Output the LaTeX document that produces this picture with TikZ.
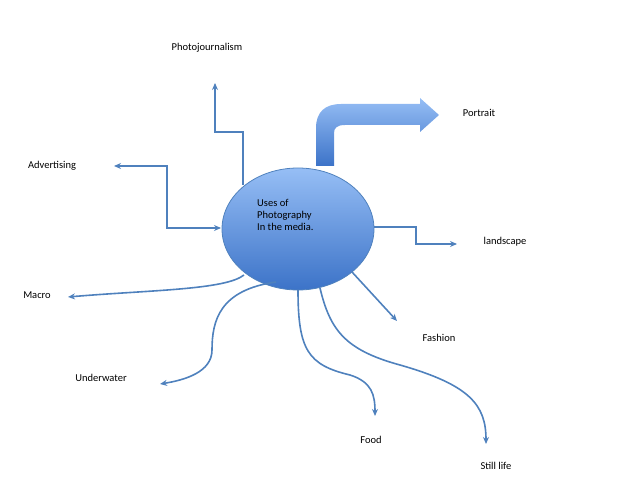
\documentclass[tikz,border=0pt]{standalone}
\usepackage{fontspec}
\setmainfont{Carlito}
\usetikzlibrary{arrows.meta,shapes.geometric}
\begin{document}
\begin{tikzpicture}[x=1pt,y=-1pt,
  conn/.style={draw=arrowblue,line width=1.6pt,-{Stealth[length=7pt,width=6pt]}},
  lbl/.style={font=\fontsize{10.5}{12}\selectfont,inner sep=0pt}]
\definecolor{arrowblue}{RGB}{79,129,189}
\definecolor{lightblue}{RGB}{150,190,245}
\definecolor{darkblue}{RGB}{60,115,200}
\path[use as bounding box] (0,0) rectangle (638,478);
% portrait block arrow
\shade[top color=lightblue,bottom color=darkblue,draw=none]
  (316,166) -- (316,128) .. controls (316,112) and (325,104) .. (341,104) -- (420,104) -- (420,98) -- (439,115) -- (420,132) -- (420,125) -- (345,125) .. controls (337,125) and (334,128) .. (334,133) -- (334,166) -- cycle;
\node[ellipse,minimum width=152pt,minimum height=122pt,draw=arrowblue,line width=0.8pt,
  top color=lightblue,bottom color=darkblue] (c) at (298,229) {};
\node[lbl,align=left,anchor=north west] (ct) at (257,199) {Uses of\\Photography\\In the media.};
\node[lbl] (pj) at (207,48) {Photojournalism};
\node[lbl] (po) at (479,113) {Portrait};
\node[lbl] (ad) at (52,166) {Advertising};
\node[lbl] (la) at (505,242) {landscape};
\node[lbl] (ma) at (37,295) {Macro};
\node[lbl] (fa) at (439,338) {Fashion};
\node[lbl] (uw) at (101,378) {Underwater};
\node[lbl] (fo) at (371,440) {Food};
\node[lbl] (sl) at (496,466) {Still life};
\coordinate (pjE) at (215,83);
\coordinate (adE) at (114,166);
\coordinate (laE) at (457,244);
\coordinate (maE) at (68,297);
\coordinate (uwE) at (160,384);
\coordinate (foE) at (375,416);
\coordinate (slE) at (486,444);
\coordinate (faE) at (397,321);
\draw[conn] (243,185) -- (243,132) -- (215,132) -- (pjE);
\draw[conn,{Stealth[length=7pt,width=6pt]}-{Stealth[length=7pt,width=6pt]}] (adE) -- (167,166) -- (167,228) -- (221,228);
\draw[conn] (374,227) -- (416,227) -- (416,244) -- (laE);
\draw[conn] (244,275) .. controls (225,290) and (150,290) .. (maE);
\draw[conn] (276,282) .. controls (220,290) and (212,320) .. (212,350) .. controls (212,372) and (185,380) .. (uwE);
\draw[conn] (298,290) .. controls (298,350) and (308,365) .. (350,375) .. controls (372,382) and (375,395) .. (foE);
\draw[conn] (320,288) .. controls (330,330) and (345,350) .. (400,365) .. controls (470,385) and (486,405) .. (slE);
\draw[conn] (352,272) -- (faE);
\end{tikzpicture}
\end{document}
